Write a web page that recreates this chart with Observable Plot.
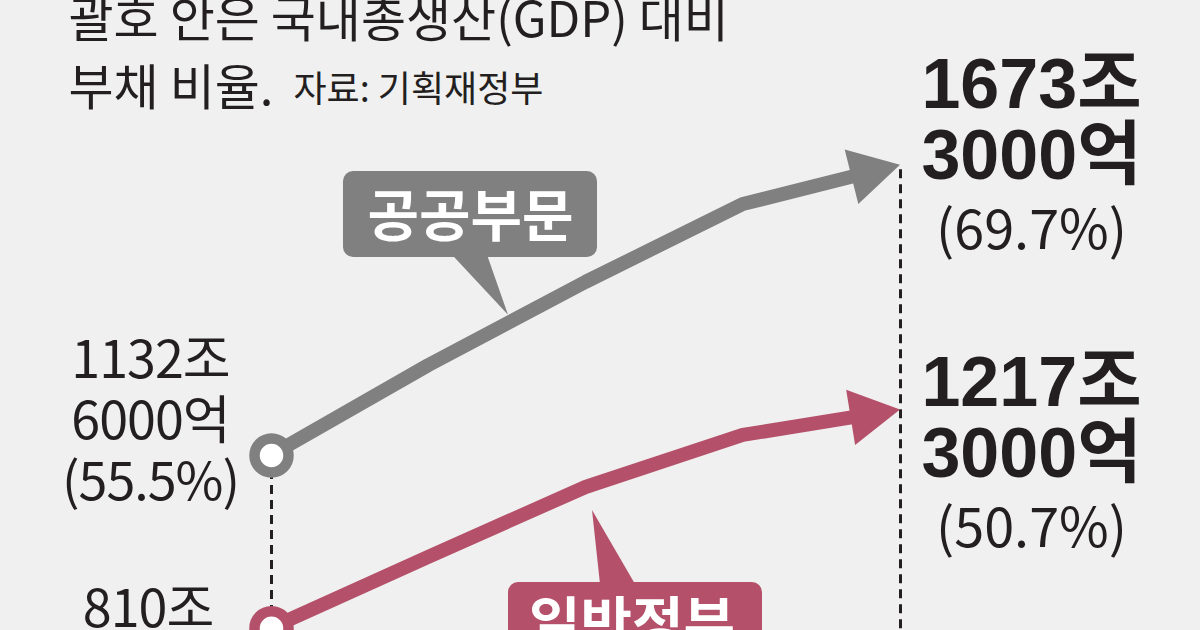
<!DOCTYPE html>
<html>
<head>
<meta charset="utf-8">
<script src="https://cdn.jsdelivr.net/npm/d3@7"></script>
<script src="https://cdn.jsdelivr.net/npm/@observablehq/plot@0.6"></script>
<style>
  html, body { margin: 0; padding: 0; background: #f0f0f0; width: 1200px; height: 630px; overflow: hidden; }
  .start-label text { letter-spacing: -1px; }
</style>
</head>
<body>
<div id="chart"></div>
<script>
// ---- data (조원) ----
const years = [2019, 2020, 2021, 2022, 2023];
const publicDebt = [1132.6, 1300, 1455, 1600, 1673.3];   // 공공부문
const generalDebt = [810.7, 943, 1073, 1170, 1217.3];    // 일반정부
const seriesNames = ["공공부문", "일반정부"];
const startLabels = ["1132조\n6000억\n(55.5%)", "810조"];
const endAmountLabels = ["1673조\n3000억", "1217조\n3000억"];
const endRatioLabels = ["(69.7%)", "(50.7%)"];
const titleLine1 = "괄호 안은 국내총생산(GDP) 대비";
const titleLine2 = "부채 비율.";
const sourceNote = "자료: 기획재정부";

// ---- styles ----
const GRAY = "#808080", RED = "#b5506a", INK = "#231f20";
const KR = "'Noto Sans CJK KR', 'Noto Sans', sans-serif";
const NUM = "'Liberation Sans Narrow', 'Noto Sans CJK KR', sans-serif";
const NUMB = "'Liberation Sans', 'Noto Sans CJK KR', sans-serif";

const toRows = vals => years.map((year, i) => ({year, value: vals[i]}));
const publicRows = toRows(publicDebt);
const generalRows = toRows(generalDebt);
const first = rows => [rows[0]];
const last = rows => [rows[rows.length - 1]];
const at = (rows, year) => rows.filter(d => d.year === year);

function arrowLine(rows, color) {
  return Plot.line(rows, {
    x: "year", y: "value", stroke: color, strokeWidth: 14,
    render(index, scales, values) {
      const X = values.x, Y = values.y;
      const pts = Array.from(index, i => [X[i], Y[i]]);
      const n = pts.length;
      const [x1, y1] = pts[n - 2], [x2, y2] = pts[n - 1];
      const a = Math.atan2(y2 - y1, x2 - x1);
      const c = Math.cos(a), s = Math.sin(a);
      const headLen = 50, headW = 28;
      const bx = x2 - headLen * c, by = y2 - headLen * s;
      const shaft = pts.slice(0, n - 1).concat([[bx + 4 * c, by + 4 * s]]);
      const g = d3.create("svg:g");
      g.append("path").attr("d", d3.line()(shaft)).attr("fill", "none")
        .attr("stroke", color).attr("stroke-width", 14).attr("stroke-linejoin", "round");
      g.append("path")
        .attr("d", `M${x2},${y2}L${bx - s * headW},${by + c * headW}L${bx + s * headW},${by - c * headW}Z`)
        .attr("fill", color);
      return g.node();
    }
  });
}

function bubble(rows, color, box, tail) {
  return Plot.dot(rows, {
    x: "year", y: "value",
    render(index, scales, values) {
      const g = d3.create("svg:g");
      for (const i of index) {
        const x = values.x[i], y = values.y[i];
        g.append("rect").attr("x", x + box[0]).attr("y", y + box[1])
          .attr("width", box[2]).attr("height", box[3]).attr("rx", 10).attr("fill", color);
        g.append("path").attr("d", d3.line()(tail.map(([dx, dy]) => [x + dx, y + dy])) + "Z").attr("fill", color);
      }
      return g.node();
    }
  });
}

const dash = {stroke: INK, strokeWidth: 3, strokeDasharray: "9,6"};

const chart = Plot.plot({
  width: 1200,
  height: 630,
  margin: 0,
  style: {background: "#f0f0f0", fontFamily: KR, color: INK},
  x: {type: "linear", domain: [years[0], years[years.length - 1]], range: [271, 900], axis: null},
  y: {domain: [0, 2000], range: [1063.2, -10.8], axis: null},
  marks: [
    // title
    Plot.text([titleLine1], {frameAnchor: "top-left", dx: 68, dy: 36, lineAnchor: "bottom", textAnchor: "start", fontSize: 49, fill: INK, fontFamily: KR}),
    Plot.text([titleLine2], {frameAnchor: "top-left", dx: 68, dy: 104, lineAnchor: "bottom", textAnchor: "start", fontSize: 49, fill: INK, fontFamily: KR}),
    Plot.text([sourceNote], {frameAnchor: "top-left", dx: 293, dy: 101, lineAnchor: "bottom", textAnchor: "start", fontSize: 36, fill: INK, fontFamily: KR}),
    // dashed guides
    Plot.ruleX([{year: years[0], top: publicDebt[0], bottom: generalDebt[0]}], {x: "year", y1: "top", y2: "bottom", ...dash}),
    Plot.ruleX([{year: years[years.length - 1], top: publicDebt[publicDebt.length - 1]}], {x: "year", y1: "top", ...dash}),
    // bubbles
    bubble(at(publicRows, 2021), GRAY, [-242.5, -110.9, 254, 86], [[-133.5, -27], [-98.5, -27], [-77.5, 33]]),
    bubble(at(generalRows, 2021), RED, [-77.5, 95, 254, 95], [[14.5, 97], [49.5, 97], [6.5, 23]]),
    Plot.text(at(publicRows, 2021), {x: "year", y: "value", text: () => seriesNames[0], dx: -115.5, dy: -46, lineAnchor: "bottom", fontSize: 56, fontWeight: "bold", fill: "white", fontFamily: KR}),
    Plot.text(at(generalRows, 2021), {x: "year", y: "value", text: () => seriesNames[1], dx: 46, dy: 156, lineAnchor: "bottom", fontSize: 56, fontWeight: "bold", fill: "white", fontFamily: KR}),
    // lines with arrowheads
    arrowLine(publicRows, GRAY),
    arrowLine(generalRows, RED),
    // start circles
    Plot.dot(first(publicRows), {x: "year", y: "value", r: 17, fill: "white", stroke: GRAY, strokeWidth: 10.5}),
    Plot.dot(first(generalRows), {x: "year", y: "value", r: 17, fill: "white", stroke: RED, strokeWidth: 10.5}),
    // start labels
    Plot.text(first(publicRows), {x: "year", y: "value", text: () => startLabels[0], dx: -121, dy: 45, lineAnchor: "bottom", lineHeight: 1.18, fontSize: 52, fill: INK, fontFamily: NUM, className: "start-label"}),
    Plot.text(first(generalRows), {x: "year", y: "value", text: () => startLabels[1], dx: -123.5, dy: -1, lineAnchor: "bottom", fontSize: 52, fill: INK, fontFamily: NUM, className: "start-label"}),
    // end labels
    Plot.text(last(publicRows), {x: "year", y: "value", text: () => endAmountLabels[0], dx: 131, dy: 13.4, lineAnchor: "bottom", lineHeight: 1.01, fontSize: 70, fontWeight: "bold", fill: INK, fontFamily: NUMB}),
    Plot.text(last(publicRows), {x: "year", y: "value", text: () => endRatioLabels[0], dx: 131, dy: 83.4, lineAnchor: "bottom", fontSize: 54, fill: INK, fontFamily: NUM}),
    Plot.text(last(generalRows), {x: "year", y: "value", text: () => endAmountLabels[1], dx: 131, dy: 66.5, lineAnchor: "bottom", lineHeight: 1.01, fontSize: 70, fontWeight: "bold", fill: INK, fontFamily: NUMB}),
    Plot.text(last(generalRows), {x: "year", y: "value", text: () => endRatioLabels[1], dx: 131, dy: 136.5, lineAnchor: "bottom", fontSize: 54, fill: INK, fontFamily: NUM})
  ]
});
document.getElementById("chart").appendChild(chart);
</script>
</body>
</html>
